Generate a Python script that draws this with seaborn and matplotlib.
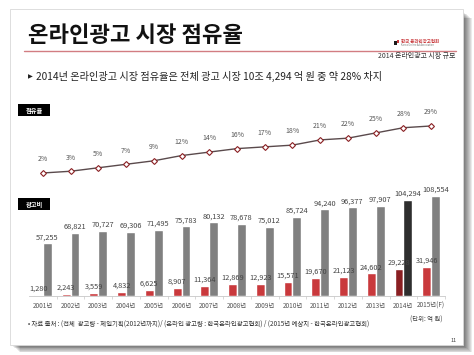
import numpy as np
import pandas as pd
import matplotlib
matplotlib.use("Agg")
import matplotlib.pyplot as plt
from matplotlib.patches import Rectangle
import seaborn as sns

sns.set_theme(style="white")
plt.rcParams['font.family'] = ['Noto Sans CJK KR', 'DejaVu Sans']

# Data
years = ["2001년", "2002년", "2003년", "2004년", "2005년", "2006년", "2007년", "2008년",
         "2009년", "2010년", "2011년", "2012년", "2013년", "2014년", "2015년(F)"]
share = [2, 3, 5, 7, 9, 12, 14, 16, 17, 18, 21, 22, 25, 28, 29]
online_ad = [1280, 2243, 3559, 4832, 6625, 8907, 11364, 12869, 12923, 15571,
             19670, 21123, 24602, 29228, 31946]
total_ad = [57255, 68821, 70727, 69306, 71495, 75783, 80132, 78678, 75012, 85724,
            94240, 96377, 97907, 104294, 108554]

RED = "#c9393c"
GRAY = "#808080"
RED_HI = "#8a1f22"
GRAY_HI = "#2e2e2e"

W, H = 474, 355
fig = plt.figure(figsize=(W / 100, H / 100), dpi=100)
fig.patch.set_facecolor("white")

# background layer in pixel coords for the slide frame and texts
bg = fig.add_axes([0, 0, 1, 1], zorder=-10)
bg.set_xlim(0, W)
bg.set_ylim(H, 0)
bg.axis("off")

# slide shadow
for k in range(9):
    bg.add_patch(Rectangle((12 + k, 12 + k * 0.8), 452, 334, facecolor="black",
                           alpha=0.08, lw=0))
bg.add_patch(Rectangle((10, 9), 453, 336, facecolor="white", edgecolor="#d8d8d8", lw=0.6))

# title block
bg.text(28, 36, "온라인광고 시장 점유율", fontsize=16, fontweight="bold", color="#111111",
        va="center", ha="left")
bg.plot([24, 456], [50.5, 50.5], color="#d27d82", lw=1.0)
bg.text(455, 56, "2014 온라인광고 시장 규모", fontsize=5, color="#333333", va="center", ha="right")
# logo
bg.add_patch(Rectangle((394, 41), 3, 4, facecolor="#1a1a1a", lw=0))
bg.add_patch(Rectangle((397, 40), 2.5, 3, facecolor="#c9393c", lw=0))
bg.text(401, 41.5, "한국 온라인광고협회", fontsize=3.2, color="#c9393c", fontweight="bold",
        va="center", ha="left")
bg.text(401, 45, "Korea Online Ad Association", fontsize=1.8, color="#777777",
        va="center", ha="left")

bg.text(28, 76.5, "▶", fontsize=4.5, color="#222222", va="center", ha="left",
        family=["DejaVu Sans"])
bg.text(36, 76, "2014년 온라인광고 시장 점유율은 전체 광고 시장 10조 4,294 억 원 중 약 28% 차지",
        fontsize=7.3, color="#222222", va="center", ha="left")

# section tags
for y0, lbl in [(104, "점유율"), (198, "광고비")]:
    bg.add_patch(Rectangle((18, y0), 32, 12, facecolor="black", lw=0))
    bg.text(34, y0 + 6, lbl, fontsize=4.5, color="white", fontweight="bold",
            va="center", ha="center")

bg.text(443, 320, "(단위: 억 원)", fontsize=4.6, color="#444444", va="center", ha="right")
bg.text(28, 324, "• 자료 출처 : (전체  광고량 - 제일기획(2012년까지)/ (온라인 광고량 : 한국온라인광고협회) / "
        "(2015년 예상치 - 한국온라인광고협회)", fontsize=4.6, color="#333333", va="center", ha="left")
bg.text(457, 340, "11", fontsize=4, color="#444444", va="center", ha="right")

# shared horizontal mapping: categories 0..14
left = 29 / W
width = 416 / W

# share line chart
ax1 = fig.add_axes([left, (H - 185) / H, width, 70 / H])
x_idx = np.arange(len(share))
sns.lineplot(x=x_idx, y=share, ax=ax1, color="#5a4a4c", lw=1.0, marker="D", markersize=3,
             markerfacecolor="white", markeredgecolor="#8a1f22", markeredgewidth=0.8)
for xi, v in zip(x_idx, share):
    ax1.annotate(f"{v}%", (xi, v), xytext=(0, 7), textcoords="offset points",
                 ha="center", va="bottom", fontsize=5, color="#555555")
ax1.set_xlim(-0.5, len(share) - 0.5)
ax1.set_ylim(-4.9, 35.3)
ax1.axis("off")
ax1.patch.set_alpha(0)

# ad spending bar chart
ax2 = fig.add_axes([left, (H - 296) / H, width, 110 / H])
df = pd.DataFrame({
    "year": years * 2,
    "value": online_ad + total_ad,
    "series": ["온라인"] * len(years) + ["전체"] * len(years),
})
sns.barplot(data=df, x="year", y="value", hue="series", palette=[RED, GRAY],
            width=0.64, ax=ax2, legend=False, saturation=1)
ax2.containers[0][13].set_facecolor(RED_HI)
ax2.containers[1][13].set_facecolor(GRAY_HI)
for cont, vals in zip(ax2.containers, [online_ad, total_ad]):
    ax2.bar_label(cont, labels=[f"{v:,}" for v in vals], padding=1.5,
                  fontsize=5.3, color="#444444")
ax2.set_xlim(-0.5, len(years) - 0.5)
ax2.set_ylim(0, 119565)
ax2.set_xlabel("")
ax2.set_ylabel("")
ax2.set_yticks([])
for s in ["top", "right", "left"]:
    ax2.spines[s].set_visible(False)
ax2.spines["bottom"].set_color("#c8c8c8")
ax2.spines["bottom"].set_linewidth(0.6)
ax2.tick_params(axis="x", length=0, labelsize=4.6, labelcolor="#555555", pad=4)
ax2.set_xticks(np.arange(len(years)) + 0.5, minor=True)
ax2.tick_params(axis="x", which="minor", length=2, width=0.5, color="#c8c8c8", bottom=True)
ax2.patch.set_alpha(0)

fig.savefig("out.png", dpi=100, facecolor=fig.get_facecolor())
